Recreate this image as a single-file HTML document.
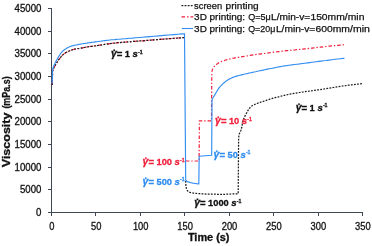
<!DOCTYPE html>
<html><head><meta charset="utf-8"><title>Viscosity vs Time</title>
<style>html,body{margin:0;padding:0;background:#fff}body{width:372px;height:246px;overflow:hidden}</style></head>
<body>
<svg width="372" height="246" viewBox="0 0 372 246" style="display:block;filter:blur(0.35px)">
<rect width="372" height="246" fill="#fff"/>
<g stroke="#3e4852" stroke-width="1" fill="none" shape-rendering="crispEdges">
<line x1="51.5" y1="8" x2="51.5" y2="213"/>
<line x1="51" y1="212.5" x2="363" y2="212.5"/>
<line x1="48" y1="8.5" x2="52" y2="8.5"/>
<line x1="48" y1="31.5" x2="52" y2="31.5"/>
<line x1="48" y1="53.5" x2="52" y2="53.5"/>
<line x1="48" y1="76.5" x2="52" y2="76.5"/>
<line x1="48" y1="99.5" x2="52" y2="99.5"/>
<line x1="48" y1="121.5" x2="52" y2="121.5"/>
<line x1="48" y1="144.5" x2="52" y2="144.5"/>
<line x1="48" y1="167.5" x2="52" y2="167.5"/>
<line x1="48" y1="189.5" x2="52" y2="189.5"/>
<line x1="48" y1="212.5" x2="52" y2="212.5"/>
<line x1="51.5" y1="212" x2="51.5" y2="216"/>
<line x1="95.5" y1="212" x2="95.5" y2="216"/>
<line x1="140.5" y1="212" x2="140.5" y2="216"/>
<line x1="184.5" y1="212" x2="184.5" y2="216"/>
<line x1="229.5" y1="212" x2="229.5" y2="216"/>
<line x1="273.5" y1="212" x2="273.5" y2="216"/>
<line x1="318.5" y1="212" x2="318.5" y2="216"/>
<line x1="362.5" y1="212" x2="362.5" y2="216"/>
</g>
<g font-family="'Liberation Sans', sans-serif" font-size="10.2" fill="#111" stroke="#111" stroke-width="0.3">
<text x="41.4" y="11.9" text-anchor="end" textLength="26.9" lengthAdjust="spacingAndGlyphs">45000</text>
<text x="41.4" y="34.6" text-anchor="end" textLength="26.9" lengthAdjust="spacingAndGlyphs">40000</text>
<text x="41.4" y="57.2" text-anchor="end" textLength="26.9" lengthAdjust="spacingAndGlyphs">35000</text>
<text x="41.4" y="79.9" text-anchor="end" textLength="26.9" lengthAdjust="spacingAndGlyphs">30000</text>
<text x="41.4" y="102.6" text-anchor="end" textLength="26.9" lengthAdjust="spacingAndGlyphs">25000</text>
<text x="41.4" y="125.2" text-anchor="end" textLength="26.9" lengthAdjust="spacingAndGlyphs">20000</text>
<text x="41.4" y="147.9" text-anchor="end" textLength="26.9" lengthAdjust="spacingAndGlyphs">15000</text>
<text x="41.4" y="170.6" text-anchor="end" textLength="26.9" lengthAdjust="spacingAndGlyphs">10000</text>
<text x="41.4" y="193.2" text-anchor="end" textLength="21.5" lengthAdjust="spacingAndGlyphs">5000</text>
<text x="41.4" y="215.9" text-anchor="end" textLength="5.4" lengthAdjust="spacingAndGlyphs">0</text>
<text x="51.8" y="230" text-anchor="middle" textLength="5.2" lengthAdjust="spacingAndGlyphs">0</text>
<text x="96.2" y="230" text-anchor="middle" textLength="10.4" lengthAdjust="spacingAndGlyphs">50</text>
<text x="140.7" y="230" text-anchor="middle" textLength="15.6" lengthAdjust="spacingAndGlyphs">100</text>
<text x="185.1" y="230" text-anchor="middle" textLength="15.6" lengthAdjust="spacingAndGlyphs">150</text>
<text x="229.5" y="230" text-anchor="middle" textLength="15.6" lengthAdjust="spacingAndGlyphs">200</text>
<text x="273.9" y="230" text-anchor="middle" textLength="15.6" lengthAdjust="spacingAndGlyphs">250</text>
<text x="318.4" y="230" text-anchor="middle" textLength="15.6" lengthAdjust="spacingAndGlyphs">300</text>
<text x="362.8" y="230" text-anchor="middle" textLength="15.6" lengthAdjust="spacingAndGlyphs">350</text>
</g>
<text x="208.7" y="240.8" text-anchor="middle" font-family="'Liberation Sans', sans-serif" font-weight="bold" font-size="10.2" textLength="41.6" lengthAdjust="spacingAndGlyphs" fill="#111" stroke="#111" stroke-width="0.3">Time (s)</text>
<g font-family="'Liberation Sans', sans-serif" font-weight="bold" font-size="10.5" fill="#111" stroke="#111" stroke-width="0.3">
<text transform="translate(9.8,167.2) rotate(-90)" textLength="54.6" lengthAdjust="spacingAndGlyphs">Viscosity</text>
<text transform="translate(9.8,108.6) rotate(-90)" textLength="32.2" lengthAdjust="spacingAndGlyphs">(mPa.s)</text>
</g>
<polyline points="52.2,85.0 52.2,84.4 52.2,83.5 52.2,82.5 52.3,81.4 52.3,80.3 52.3,79.1 52.4,78.0 52.4,77.0 52.4,76.1 52.5,75.1 52.5,74.2 52.5,73.4 52.6,72.5 52.6,71.7 52.7,70.9 52.9,70.1 53.1,69.4 53.4,68.7 53.7,68.1 54.0,67.5 54.3,67.0 54.6,66.4 55.0,65.9 55.3,65.3 55.6,64.8 55.9,64.2 56.2,63.7 56.5,63.2 56.8,62.7 57.1,62.2 57.5,61.7 57.8,61.2 58.2,60.7 58.5,60.1 58.9,59.5 59.3,58.9 59.8,58.4 60.2,57.8 60.6,57.3 61.0,56.8 61.4,56.3 61.8,55.9 62.2,55.5 62.5,55.1 62.9,54.7 63.4,54.3 63.8,54.0 64.3,53.6 64.8,53.2 65.4,52.9 66.0,52.5 66.6,52.2 67.2,51.9 67.9,51.6 68.5,51.3 69.1,51.0 69.7,50.7 70.3,50.5 70.9,50.3 71.4,50.1 72.0,49.9 72.7,49.7 73.3,49.5 74.0,49.3 74.7,49.1 75.5,49.0 76.3,48.8 77.2,48.7 78.0,48.6 78.8,48.5 79.7,48.3 80.5,48.2 81.3,48.1 82.0,47.9 82.8,47.8 83.5,47.6 84.3,47.5 85.1,47.3 86.0,47.2 87.0,47.0 88.0,46.8 89.1,46.7 90.3,46.5 91.5,46.4 92.7,46.2 94.0,46.0 95.4,45.8 96.8,45.6 98.3,45.4 99.8,45.1 101.5,44.9 103.1,44.6 104.8,44.3 106.6,44.1 108.3,43.8 110.0,43.6 111.6,43.4 113.2,43.2 114.7,43.1 116.2,42.9 117.8,42.7 119.6,42.6 121.7,42.4 124.0,42.2 126.6,42.0 129.4,41.8 132.5,41.5 135.7,41.3 139.1,41.0 142.6,40.8 146.2,40.5 150.0,40.2 154.2,39.9 158.9,39.5 163.9,39.1 169.0,38.7 173.9,38.3 178.3,38.0 182.1,37.7 184.8,37.5" fill="none" stroke="#f0203c" stroke-width="1.2" stroke-dasharray="3.6 1.9 1.4 1.9"/>
<polyline points="185.7,181.0 185.7,181.4 185.7,182.0 185.8,182.7 185.8,183.4 185.8,184.2 185.9,185.0 185.9,185.7 186.0,186.3 186.1,186.9 186.2,187.4 186.3,187.9 186.4,188.4 186.5,188.8 186.6,189.2 186.8,189.6 187.0,190.0 187.2,190.3 187.4,190.7 187.7,190.9 188.0,191.2 188.3,191.5 188.6,191.7 189.0,191.9 189.4,192.1 189.9,192.3 190.3,192.5 190.8,192.6 191.4,192.7 192.0,192.9 192.7,193.0 193.4,193.1 194.3,193.2 195.2,193.3 196.2,193.4 197.2,193.5 198.3,193.6 199.5,193.7 200.9,193.8 202.4,193.8 204.0,193.9 205.9,194.0 208.0,194.0 210.2,194.1 212.6,194.2 215.0,194.2 217.4,194.3 219.8,194.3 222.0,194.3 224.2,194.3 226.6,194.2 228.9,194.1 231.2,194.0 233.4,193.9 235.3,193.8 237.0,193.8 238.2,193.7 238.6,138.5 238.6,138.2 238.7,137.7 238.8,137.1 238.8,136.5 238.9,135.9 239.0,135.2 239.2,134.6 239.3,134.0 239.5,133.5 239.7,133.0 239.9,132.5 240.2,132.1 240.4,131.6 240.7,131.0 240.9,130.4 241.2,129.6 241.4,128.7 241.7,127.6 241.9,126.4 242.1,125.2 242.4,124.0 242.6,122.7 242.9,121.6 243.2,120.5 243.5,119.5 243.9,118.6 244.2,117.6 244.6,116.8 245.0,115.9 245.4,115.1 245.9,114.2 246.3,113.4 246.8,112.6 247.2,111.7 247.7,110.9 248.2,110.1 248.8,109.3 249.3,108.6 249.8,107.9 250.3,107.3 250.8,106.8 251.2,106.4 251.7,106.1 252.1,105.8 252.6,105.5 253.1,105.2 253.7,104.9 254.4,104.6 255.2,104.2 256.0,103.9 257.0,103.5 257.9,103.2 259.0,102.8 260.1,102.4 261.2,102.0 262.5,101.6 263.8,101.2 265.3,100.7 266.8,100.2 268.3,99.7 269.9,99.2 271.6,98.7 273.3,98.2 275.0,97.7 276.8,97.2 278.6,96.8 280.4,96.3 282.3,95.8 284.3,95.3 286.2,94.9 288.1,94.5 290.0,94.1 291.9,93.7 293.8,93.4 295.6,93.1 297.5,92.8 299.4,92.5 301.2,92.3 303.1,92.0 305.0,91.7 306.9,91.4 308.8,91.2 310.6,90.9 312.5,90.7 314.4,90.4 316.2,90.1 318.1,89.9 320.0,89.6 321.9,89.3 323.8,89.0 325.6,88.7 327.5,88.4 329.4,88.1 331.2,87.8 333.1,87.5 335.0,87.2 336.9,86.9 338.8,86.6 340.7,86.3 342.7,86.0 344.6,85.8 346.4,85.5 348.2,85.2 350.0,85.0 351.8,84.8 353.6,84.6 355.5,84.4 357.2,84.2 358.9,84.0 360.4,83.8 361.6,83.7 362.6,83.6" fill="none" stroke="#1a1a1a" stroke-width="1.25" stroke-dasharray="1.8 1.3"/>
<polyline points="52.2,85.0 52.2,84.4 52.2,83.5 52.2,82.5 52.3,81.4 52.3,80.3 52.3,79.1 52.4,78.0 52.4,77.0 52.4,76.1 52.5,75.1 52.5,74.2 52.5,73.4 52.6,72.5 52.6,71.7 52.7,70.9 52.9,70.1 53.1,69.4 53.4,68.7 53.7,68.1 54.0,67.5 54.3,67.0 54.6,66.4 55.0,65.9 55.3,65.3 55.6,64.8 55.9,64.2 56.2,63.7 56.5,63.2 56.8,62.7 57.1,62.2 57.5,61.7 57.8,61.2 58.2,60.7 58.5,60.1 58.9,59.5 59.3,58.9 59.8,58.4 60.2,57.8 60.6,57.3 61.0,56.8 61.4,56.3 61.8,55.9 62.2,55.5 62.5,55.1 62.9,54.7 63.4,54.3 63.8,54.0 64.3,53.6 64.8,53.2 65.4,52.9 66.0,52.5 66.6,52.2 67.2,51.9 67.9,51.6 68.5,51.3 69.1,51.0 69.7,50.7 70.3,50.5 70.9,50.3 71.4,50.1 72.0,49.9 72.7,49.7 73.3,49.5 74.0,49.3 74.7,49.1 75.5,49.0 76.3,48.8 77.2,48.7 78.0,48.6 78.8,48.5 79.7,48.3 80.5,48.2 81.3,48.1 82.0,47.9 82.8,47.8 83.5,47.6 84.3,47.5 85.1,47.3 86.0,47.2 87.0,47.0 88.0,46.8 89.1,46.7 90.3,46.5 91.5,46.4 92.7,46.2 94.0,46.0 95.4,45.8 96.8,45.6 98.3,45.4 99.8,45.1 101.5,44.9 103.1,44.6 104.8,44.3 106.6,44.1 108.3,43.8 110.0,43.6 111.6,43.4 113.2,43.2 114.7,43.1 116.2,42.9 117.8,42.7 119.6,42.6 121.7,42.4 124.0,42.2 126.6,42.0 129.4,41.8 132.5,41.5 135.7,41.3 139.1,41.0 142.6,40.8 146.2,40.5 150.0,40.2 154.2,39.9 158.9,39.5 163.9,39.1 169.0,38.7 173.9,38.3 178.3,38.0 182.1,37.7 184.8,37.5" fill="none" stroke="#1a1a1a" stroke-width="1.25" stroke-dasharray="1.8 1.5"/>
<polyline points="185.8,161.0 199.1,161.0 199.4,120.8 211.5,120.8 211.8,71.7 211.9,71.5 212.0,71.2 212.1,70.8 212.2,70.4 212.3,69.9 212.5,69.5 212.6,69.1 212.8,68.7 213.0,68.4 213.2,68.0 213.4,67.7 213.6,67.4 213.8,67.1 214.1,66.7 214.4,66.4 214.8,66.0 215.2,65.6 215.7,65.1 216.3,64.6 216.9,64.1 217.5,63.7 218.2,63.2 218.9,62.7 219.6,62.3 220.4,61.9 221.2,61.6 222.1,61.2 223.0,60.9 223.9,60.6 224.9,60.3 225.9,60.0 227.0,59.7 228.1,59.4 229.1,59.2 230.1,58.9 231.2,58.7 232.4,58.4 233.7,58.2 235.1,57.9 236.7,57.6 238.5,57.3 240.5,57.0 242.7,56.6 244.9,56.2 247.2,55.9 249.5,55.5 251.7,55.2 253.8,54.9 255.7,54.6 257.6,54.3 259.4,54.1 261.2,53.8 262.9,53.6 264.7,53.4 266.5,53.1 268.4,52.9 270.3,52.7 272.2,52.4 274.1,52.2 276.0,52.0 277.9,51.7 280.0,51.5 282.1,51.2 284.3,51.0 286.7,50.7 289.2,50.5 291.8,50.2 294.5,50.0 297.2,49.7 299.9,49.4 302.5,49.2 305.0,48.9 307.4,48.6 309.7,48.4 311.9,48.1 314.1,47.8 316.3,47.6 318.6,47.3 320.9,47.1 323.3,46.8 326.0,46.5 328.9,46.2 332.0,45.9 335.0,45.6 338.0,45.3 340.6,45.1 342.8,44.9 344.5,44.7" fill="none" stroke="#f0203c" stroke-width="1.2" stroke-dasharray="3.6 1.9 1.4 1.9"/>
<polyline points="52.2,83.6 52.2,82.9 52.2,82.0 52.2,80.9 52.3,79.7 52.3,78.4 52.3,77.2 52.4,76.0 52.4,75.0 52.4,74.1 52.5,73.2 52.5,72.4 52.5,71.6 52.6,70.8 52.6,70.0 52.7,69.3 52.9,68.5 53.1,67.7 53.4,67.0 53.7,66.3 54.0,65.5 54.3,64.8 54.6,64.1 55.0,63.5 55.3,62.8 55.6,62.2 55.9,61.5 56.2,60.9 56.5,60.4 56.8,59.8 57.1,59.2 57.5,58.6 57.8,58.0 58.2,57.4 58.5,56.7 58.9,56.1 59.3,55.4 59.8,54.8 60.2,54.1 60.6,53.5 61.0,53.0 61.4,52.5 61.8,52.1 62.2,51.7 62.5,51.3 62.9,50.9 63.4,50.5 63.8,50.2 64.3,49.8 64.8,49.4 65.4,49.0 66.0,48.7 66.6,48.3 67.2,47.9 67.9,47.6 68.5,47.3 69.1,47.0 69.7,46.7 70.3,46.5 70.9,46.3 71.4,46.1 72.0,45.9 72.7,45.8 73.3,45.6 74.0,45.4 74.7,45.2 75.5,45.0 76.3,44.9 77.2,44.7 78.0,44.6 78.8,44.4 79.7,44.2 80.5,44.1 81.3,44.0 82.0,43.8 82.8,43.7 83.5,43.6 84.3,43.5 85.1,43.4 86.0,43.2 87.0,43.1 88.0,42.9 89.1,42.8 90.3,42.6 91.5,42.4 92.7,42.3 94.0,42.1 95.4,41.9 96.8,41.7 98.3,41.5 99.8,41.3 101.5,41.1 103.1,40.8 104.8,40.6 106.6,40.4 108.3,40.2 110.0,40.0 111.6,39.8 113.2,39.7 114.7,39.6 116.2,39.4 117.8,39.3 119.6,39.2 121.7,39.0 124.0,38.8 126.6,38.6 129.5,38.3 132.5,38.1 135.7,37.8 139.1,37.5 142.6,37.2 146.3,36.9 150.0,36.6 154.1,36.3 158.8,35.9 163.8,35.4 168.9,35.0 173.7,34.6 178.1,34.2 181.8,33.9 184.5,33.7 184.5,33.7 185.7,179.8 185.8,179.9 185.9,180.1 186.1,180.3 186.3,180.5 186.5,180.8 186.7,181.0 186.9,181.2 187.2,181.4 187.5,181.6 187.8,181.7 188.1,181.9 188.4,182.0 188.8,182.1 189.2,182.3 189.6,182.4 190.0,182.5 190.4,182.6 190.9,182.7 191.4,182.8 191.9,182.9 192.4,183.0 192.9,183.1 193.5,183.2 194.0,183.3 194.6,183.4 195.3,183.5 196.0,183.6 196.7,183.7 197.3,183.8 197.9,183.9 198.4,183.9 198.8,184.0 199.2,156.3 211.7,155.2 212.0,100.0 212.1,99.8 212.2,99.6 212.3,99.4 212.4,99.1 212.5,98.8 212.7,98.5 212.8,98.1 213.0,97.8 213.2,97.5 213.4,97.2 213.5,96.9 213.7,96.6 214.0,96.3 214.2,95.9 214.5,95.4 214.8,94.9 215.2,94.3 215.5,93.6 216.0,92.8 216.4,92.0 216.9,91.2 217.4,90.4 217.9,89.6 218.4,88.8 218.9,88.1 219.5,87.4 220.1,86.7 220.7,86.0 221.3,85.3 222.0,84.7 222.6,84.0 223.3,83.4 224.0,82.8 224.7,82.2 225.4,81.6 226.2,81.0 227.0,80.5 227.8,80.0 228.6,79.5 229.4,79.0 230.2,78.6 231.1,78.2 231.9,77.8 232.8,77.4 233.7,77.1 234.7,76.8 235.7,76.4 236.7,76.1 237.8,75.8 238.9,75.5 240.1,75.2 241.3,74.9 242.5,74.6 243.8,74.3 245.1,74.0 246.5,73.7 247.9,73.4 249.4,73.0 250.9,72.7 252.4,72.4 254.0,72.0 255.6,71.7 257.2,71.3 258.7,71.0 260.2,70.7 261.7,70.4 263.2,70.1 264.7,69.7 266.2,69.4 267.8,69.1 269.3,68.8 270.9,68.5 272.5,68.2 274.0,67.9 275.5,67.5 277.1,67.2 278.7,66.9 280.4,66.6 282.3,66.2 284.3,65.9 286.6,65.6 289.0,65.2 291.6,64.9 294.3,64.5 297.1,64.2 299.8,63.9 302.5,63.5 305.0,63.2 307.4,62.9 309.7,62.6 311.9,62.3 314.1,62.0 316.3,61.7 318.6,61.4 320.9,61.1 323.3,60.8 326.0,60.5 328.9,60.1 332.0,59.7 335.0,59.3 338.0,59.0 340.6,58.7 342.8,58.4 344.5,58.2" fill="none" stroke="#318df0" stroke-width="1.15" stroke-linejoin="round"/>
<line x1="181.5" y1="5.6" x2="193.3" y2="5.6" stroke="#1a1a1a" stroke-width="1.25" stroke-dasharray="1.8 1.3"/>
<line x1="181.5" y1="16.8" x2="193.3" y2="16.8" stroke="#f0203c" stroke-width="1.3" stroke-dasharray="3.5 2 1.5 2"/>
<line x1="181.9" y1="28.5" x2="193.2" y2="28.5" stroke="#318df0" stroke-width="1.1"/>
<g font-family="'Liberation Sans', sans-serif" font-size="9.6" fill="#111" stroke="#111" stroke-width="0.25">
<text y="9.0"><tspan x="194.1" textLength="28.0" lengthAdjust="spacingAndGlyphs">screen</tspan> <tspan x="225.6" textLength="33.1" lengthAdjust="spacingAndGlyphs">printing</tspan></text>
<text y="20.3"><tspan x="194.1" textLength="50.9" lengthAdjust="spacingAndGlyphs">3D printing:</tspan> <tspan x="248.2" textLength="22.6" lengthAdjust="spacingAndGlyphs">Q=5μ</tspan><tspan x="271.0" textLength="39.2" lengthAdjust="spacingAndGlyphs">L/min-v=</tspan><tspan x="310.4" textLength="34.4" lengthAdjust="spacingAndGlyphs">150mm</tspan><tspan x="344.8" textLength="19.6" lengthAdjust="spacingAndGlyphs">/min</tspan></text>
<text y="31.7"><tspan x="194.1" textLength="50.9" lengthAdjust="spacingAndGlyphs">3D printing:</tspan> <tspan x="248.2" textLength="27.1" lengthAdjust="spacingAndGlyphs">Q=20μ</tspan><tspan x="275.9" textLength="39.4" lengthAdjust="spacingAndGlyphs">L/min-v=</tspan><tspan x="315.5" textLength="34.5" lengthAdjust="spacingAndGlyphs">600mm</tspan><tspan x="350.0" textLength="19.8" lengthAdjust="spacingAndGlyphs">/min</tspan></text>
</g>
<g font-family="'Liberation Sans', sans-serif" font-size="9.6" font-weight="bold">
<g fill="#111" stroke="#111" stroke-width="0.3"><text x="110.9" y="57.4" font-style="italic" font-size="10.5">γ</text><text x="112.9" y="51.4" font-size="9">.</text><text x="116.8" y="57.4">=</text><text x="124.8" y="57.4" textLength="5.2" lengthAdjust="spacingAndGlyphs">1</text><text x="132.5" y="57.4" font-style="italic">s</text><text x="138.0" y="53.8" font-size="6" textLength="4.6" lengthAdjust="spacingAndGlyphs">-1</text></g>
<g fill="#111" stroke="#111" stroke-width="0.3"><text x="295.7" y="110.6" font-style="italic" font-size="10.5">γ</text><text x="297.7" y="104.6" font-size="9">.</text><text x="301.6" y="110.6">=</text><text x="309.6" y="110.6" textLength="5.2" lengthAdjust="spacingAndGlyphs">1</text><text x="317.4" y="110.6" font-style="italic">s</text><text x="322.9" y="107.0" font-size="6" textLength="4.6" lengthAdjust="spacingAndGlyphs">-1</text></g>
<g fill="#f0203c" stroke="#f0203c" stroke-width="0.3"><text x="215.0" y="124.1" font-style="italic" font-size="10.5">γ</text><text x="217.0" y="118.1" font-size="9">.</text><text x="220.9" y="124.1">=</text><text x="228.9" y="124.1" textLength="10.3" lengthAdjust="spacingAndGlyphs">10</text><text x="241.8" y="124.1" font-style="italic">s</text><text x="247.3" y="120.5" font-size="6" textLength="4.6" lengthAdjust="spacingAndGlyphs">-1</text></g>
<g fill="#318df0" stroke="#318df0" stroke-width="0.3"><text x="213.6" y="158.0" font-style="italic" font-size="10.5">γ</text><text x="215.6" y="152.0" font-size="9">.</text><text x="219.5" y="158.0">=</text><text x="227.5" y="158.0" textLength="10.3" lengthAdjust="spacingAndGlyphs">50</text><text x="240.4" y="158.0" font-style="italic">s</text><text x="245.9" y="154.4" font-size="6" textLength="4.6" lengthAdjust="spacingAndGlyphs">-1</text></g>
<g fill="#f0203c" stroke="#f0203c" stroke-width="0.3"><text x="142.6" y="165.2" font-style="italic" font-size="10.5">γ</text><text x="144.6" y="159.2" font-size="9">.</text><text x="148.5" y="165.2">=</text><text x="156.5" y="165.2" textLength="15.5" lengthAdjust="spacingAndGlyphs">100</text><text x="174.5" y="165.2" font-style="italic">s</text><text x="180.0" y="161.6" font-size="6" textLength="4.6" lengthAdjust="spacingAndGlyphs">-1</text></g>
<g fill="#318df0" stroke="#318df0" stroke-width="0.3"><text x="142.6" y="184.6" font-style="italic" font-size="10.5">γ</text><text x="144.6" y="178.6" font-size="9">.</text><text x="148.5" y="184.6">=</text><text x="156.5" y="184.6" textLength="15.5" lengthAdjust="spacingAndGlyphs">500</text><text x="174.5" y="184.6" font-style="italic">s</text><text x="180.0" y="181.0" font-size="6" textLength="4.6" lengthAdjust="spacingAndGlyphs">-1</text></g>
<g fill="#111" stroke="#111" stroke-width="0.3"><text x="194.2" y="206.1" font-style="italic" font-size="10.5">γ</text><text x="196.2" y="200.1" font-size="9">.</text><text x="200.1" y="206.1">=</text><text x="208.1" y="206.1" textLength="20.6" lengthAdjust="spacingAndGlyphs">1000</text><text x="231.3" y="206.1" font-style="italic">s</text><text x="236.8" y="202.5" font-size="6" textLength="4.6" lengthAdjust="spacingAndGlyphs">-1</text></g>
</g>
</svg>
</body></html>
